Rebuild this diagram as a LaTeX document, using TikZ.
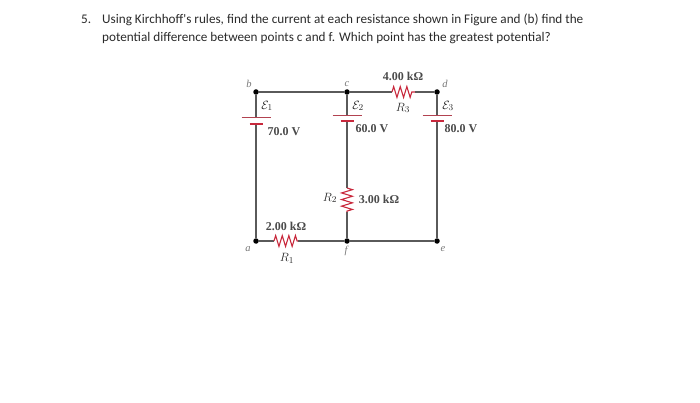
\documentclass[tikz,border=0pt]{standalone}
\usepackage{fontspec}
\setmainfont{Liberation Serif}
\newfontfamily\qfont{Carlito}
\usetikzlibrary{decorations.pathmorphing}

\definecolor{wirecol}{HTML}{5A5A5A}
\definecolor{rescol}{HTML}{C8283C}
\definecolor{inkcol}{HTML}{2A2A2A}
\definecolor{lblcol}{HTML}{4A4A4A}

\tikzset{
    wire/.style={draw=wirecol,line width=1.2pt},
    dot/.style={circle,fill=black,inner sep=0pt,minimum size=5.5pt},
    res/.style={draw=rescol,line width=1.1pt,decorate,
        decoration={zigzag,segment length=6.6pt,amplitude=5.4pt}},
    longplate/.style={draw=rescol!70!gray,line width=.9pt},
    shortplate/.style={draw=rescol,line width=2.8pt},
    lbl/.style={font=\bfseries\fontsize{12}{14}\selectfont,text=lblcol,inner sep=0pt},
    ptlbl/.style={font=\itshape\fontsize{10.5}{12}\selectfont,text=lblcol!75,inner sep=0pt},
    emf/.style={font=\fontsize{12.5}{14}\selectfont,text=inkcol,inner sep=0pt},
    question/.style={font=\qfont\fontsize{13.2}{16}\selectfont,text=inkcol,inner sep=0pt,anchor=base west}
}

\begin{document}
\begin{tikzpicture}[x=1pt,y=-1pt]
    \useasboundingbox (0,0) rectangle (700,403);

    % question
    \node[question] (num) at (81,24) {5.};
    \node[question] (line1) at (102,24) {Using Kirchhoff's rules, find the current at each resistance shown in Figure and (b) find the};
    \node[question] (line2) at (102,42) {potential difference between points c and f. Which point has the greatest potential?};

    % junctions
    \node[dot] (b) at (256,92) {};
    \node[dot] (c) at (347,92) {};
    \node[dot] (d) at (437,92) {};
    \node[dot] (a) at (256,241) {};
    \node[dot] (f) at (347,241) {};
    \node[dot] (e) at (437,241) {};

    % resistor ends
    \coordinate (r3l) at (392,92);
    \coordinate (r3r) at (415,92);
    \coordinate (r1l) at (274,241);
    \coordinate (r1r) at (298,241);
    \coordinate (r2t) at (347,188);
    \coordinate (r2b) at (347,212);

    % wires
    \draw[wire] (b) -- (c) -- (r3l);
    \draw[wire] (r3r) -- (d);
    \draw[wire] (a) -- (r1l);
    \draw[wire] (r1r) -- (f) -- (e);
    \draw[wire] (b) -- (a);
    \draw[wire] (c) -- (r2t);
    \draw[wire] (r2b) -- (f);
    \draw[wire] (d) -- (e);

    % resistors
    \draw[res] (r3l) -- (r3r);
    \draw[res] (r1l) -- (r1r);
    \draw[res] (r2t) -- (r2b);

    % batteries
    \fill[white] (240,118) rectangle (272,123);
    \fill[white] (421,116) rectangle (453,120);
    \fill[white] (331,116) rectangle (363,120);
    \foreach \name/\xx/\ya/\yb in {one/256/117/124,two/347/115/121,three/437/115/121}{
        \coordinate (\name la) at (\xx-14.5,\ya);
        \coordinate (\name lb) at (\xx+14.5,\ya);
        \coordinate (\name sa) at (\xx-6.5,\yb);
        \coordinate (\name sb) at (\xx+6.5,\yb);
        \draw[longplate] (\name la) -- (\name lb);
        \draw[shortplate] (\name sa) -- (\name sb);
    }

    % labels
    \node[ptlbl] (lb) at (249,84) {b};
    \node[ptlbl] (lc) at (347,84) {c};
    \node[ptlbl] (ld) at (445,84) {d};
    \node[ptlbl] (la) at (248,249) {a};
    \node[ptlbl] (lf) at (346,251) {f};
    \node[ptlbl] (le) at (443,249) {e};

    \node[emf] (e1) at (267,106) {$\mathcal{E}_1$};
    \node[emf] (e2) at (358,106) {$\mathcal{E}_2$};
    \node[emf] (e3) at (448,106) {$\mathcal{E}_3$};

    \node[lbl] (v1) at (284,132) {70.0 V};
    \node[lbl] (v2) at (372,129) {60.0 V};
    \node[lbl] (v3) at (461,129) {80.0 V};

    \node[lbl] (r3val) at (403,76) {4.00 kΩ};
    \node[emf] (r3lbl) at (403,108) {$R_3$};
    \node[emf] (r2lbl) at (330,198) {$R_2$};
    \node[lbl] (r2val) at (379,199) {3.00 kΩ};
    \node[lbl] (r1val) at (286,226) {2.00 kΩ};
    \node[emf] (r1lbl) at (287,258) {$R_1$};
\end{tikzpicture}
\end{document}
